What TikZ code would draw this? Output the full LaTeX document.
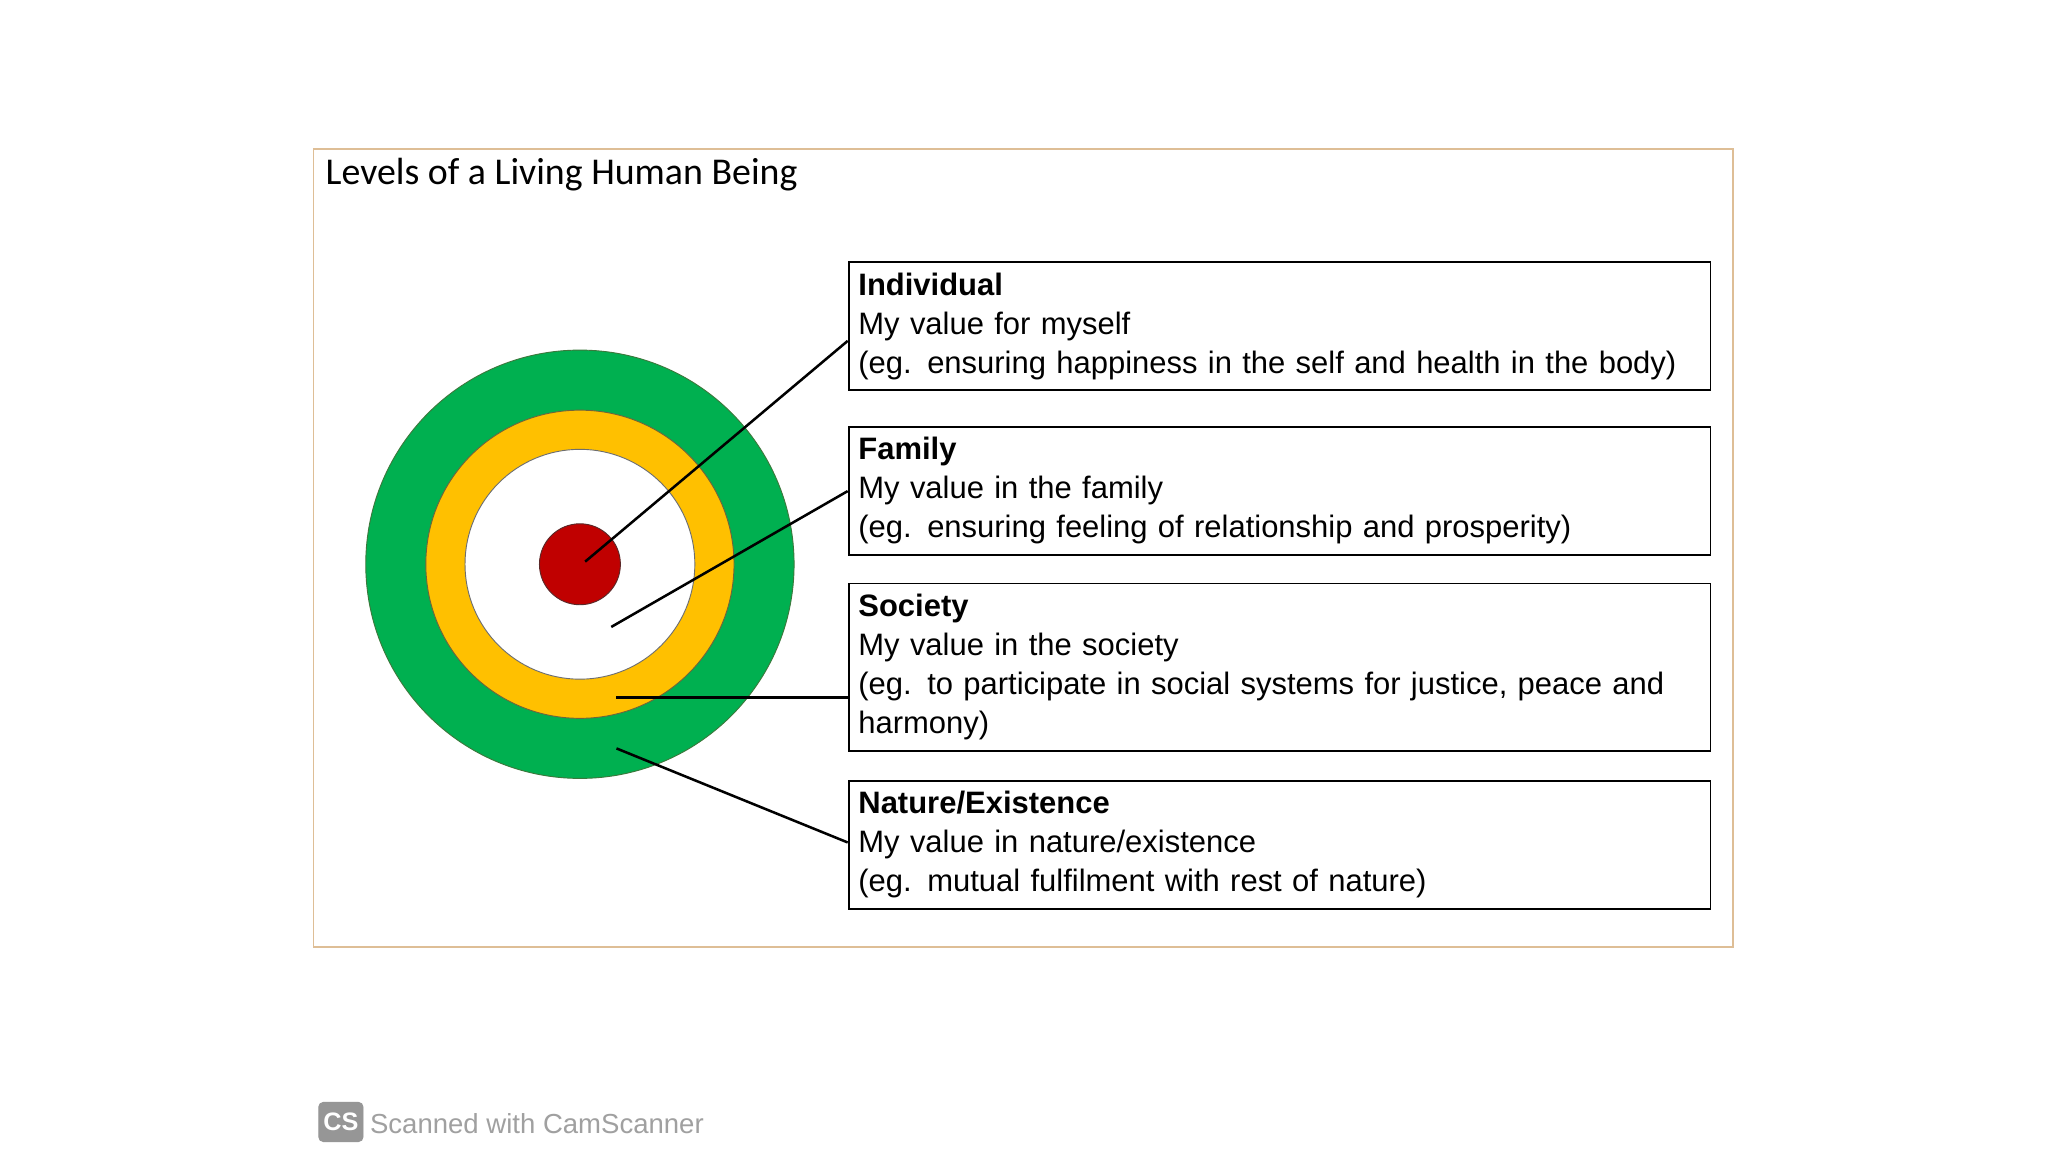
\documentclass[tikz,border=0pt]{standalone}
\usepackage{fontspec}
\setmainfont{Liberation Sans}
\newfontfamily\titlefont{Carlito}
\begin{document}
\begin{tikzpicture}[x=0.02cm,y=-0.02cm,
  lvlbox/.style={draw=black,line width=0.8pt,anchor=north west,minimum width=13.2cm,text width=12.9cm,inner sep=0.15cm,align=left,font=\fontsize{13.5}{17}\selectfont},
  conn/.style={draw=black,line width=1.1pt}]
\useasboundingbox (0,0) rectangle (1568,882);
\fill[white] (0,0) rectangle (1568,882);
\draw[draw={rgb,255:red,222;green,190;blue,150},line width=0.8pt] (240,114) rectangle (1327,725);
\node[anchor=west,font=\titlefont\fontsize{16.5}{20}\selectfont,inner sep=0] (title) at (249,134) {Levels of a Living Human Being};
% circles
\coordinate (c) at (444,432);
\fill[draw={rgb,255:red,60;green,120;blue,60},fill={rgb,255:red,0;green,176;blue,80}] (c) circle[radius=3.28cm];
\fill[draw={rgb,255:red,110;green,100;blue,60},fill={rgb,255:red,255;green,192;blue,0}] (c) circle[radius=2.36cm];
\fill[draw={rgb,255:red,110;green,110;blue,110},fill=white] (c) circle[radius=1.76cm];
\fill[draw={rgb,255:red,90;green,40;blue,40},fill={rgb,255:red,192;green,0;blue,0}] (c) circle[radius=0.62cm];
% boxes
\node[lvlbox,minimum height=1.96cm] (b1) at (649,200) {\textbf{Individual}\\My value for myself\\(eg. ensuring happiness in the self and health in the body)};
\node[lvlbox,minimum height=1.96cm] (b2) at (649,326) {\textbf{Family}\\My value in the family\\(eg. ensuring feeling of relationship and prosperity)};
\node[lvlbox,minimum height=2.56cm] (b3) at (649,446) {\textbf{Society}\\My value in the society\\(eg. to participate in social systems for justice, peace and harmony)};
\node[lvlbox,minimum height=1.96cm] (b4) at (649,597) {\textbf{Nature/Existence}\\My value in nature/existence\\(eg. mutual fulfilment with rest of nature)};
\coordinate (p1) at (448,430);
\coordinate (p2) at (468,480);
\coordinate (p3) at (472,534);
\coordinate (p4) at (472,573);
\draw[conn] (b1.west |- 0,261) -- (p1);
\draw[conn] (b2.west |- 0,376) -- (p2);
\draw[conn] (b3.west |- 0,534) -- (p3);
\draw[conn] (b4.west |- 0,645) -- (p4);
% watermark
\node[draw={rgb,255:red,150;green,150;blue,150},fill={rgb,255:red,150;green,150;blue,150},text=white,rounded corners=2pt,font=\bfseries\fontsize{11}{12}\selectfont,inner sep=2pt,minimum width=0.62cm,minimum height=0.6cm] (cs) at (261,859) {CS};
\node[anchor=west,text={rgb,255:red,160;green,160;blue,160},font=\fontsize{12}{14}\selectfont,inner sep=0] (wm) at (283,860) {Scanned with CamScanner};
\end{tikzpicture}
\end{document}
